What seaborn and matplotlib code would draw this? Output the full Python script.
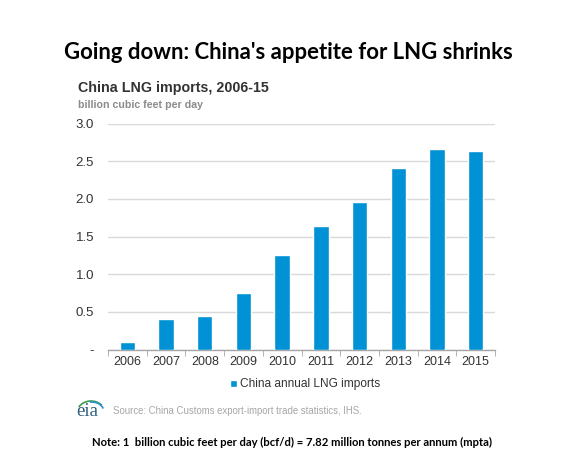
import matplotlib
matplotlib.use("Agg")
import matplotlib.pyplot as plt
from matplotlib.patches import Arc
import seaborn as sns
import pandas as pd

years = ['2006', '2007', '2008', '2009', '2010', '2011', '2012', '2013', '2014', '2015']
imports_bcfd = [0.10, 0.40, 0.44, 0.75, 1.26, 1.64, 1.96, 2.41, 2.66, 2.64]
y_ticks = [0, 0.5, 1.0, 1.5, 2.0, 2.5, 3.0]
y_tick_labels = ['-', '0.5', '1.0', '1.5', '2.0', '2.5', '3.0']

sns.set_style('white')
plt.rcParams['font.family'] = ['Liberation Sans', 'DejaVu Sans']

df = pd.DataFrame({'year': years, 'value': imports_bcfd})

fig = plt.figure(figsize=(5.64, 4.71), dpi=100)
ax = fig.add_axes([108 / 564, 1 - 349.5 / 471, 387 / 564, 226 / 471])

sns.barplot(data=df, x='year', y='value', color='#0092d4', saturation=1,
            width=0.4, ax=ax, label='China annual LNG imports', zorder=3)

ax.set_ylim(0, 3.0)
ax.set_xlim(-0.5, len(years) - 0.5)
ax.set_yticks(y_ticks)
ax.set_yticklabels(y_tick_labels)
ax.set_xlabel('')
ax.set_ylabel('')
ax.yaxis.grid(True, color='#d9d9d9', linewidth=1, zorder=0)
for s in ['top', 'right', 'left']:
    ax.spines[s].set_visible(False)
ax.spines['bottom'].set_color('#a6a6a6')
ax.spines['bottom'].set_linewidth(1)

# tick marks between categories, labels under bars
ax.set_xticks([i - 0.5 for i in range(len(years) + 1)], minor=True)
ax.tick_params(axis='x', which='minor', length=4, color='#a6a6a6', direction='out')
ax.tick_params(axis='x', which='major', length=0, pad=5, labelsize=9, labelcolor='#333333')
ax.tick_params(axis='y', length=0, pad=10, labelsize=9.5, labelcolor='#333333')
ax.xaxis.set_tick_params(bottom=True, which='minor')

leg = ax.legend(loc='upper center', bbox_to_anchor=(0.51, -0.08), frameon=False,
                handlelength=0.55, handleheight=0.55, handletextpad=0.3, fontsize=8.6)
for t in leg.get_texts():
    t.set_color('#333333')

fig.text(288 / 564, 1 - 59 / 471, "Going down: China's appetite for LNG shrinks",
         ha='center', va='baseline', fontsize=15.9, fontweight='bold', family='Lato', color='black')
fig.text(78 / 564, 1 - 88 / 471, 'China LNG imports, 2006-15', ha='left', va='center',
         fontsize=10.3, fontweight='bold', color='#333333')
fig.text(78 / 564, 1 - 105 / 471, 'billion cubic feet per day', ha='left', va='center',
         fontsize=7.7, fontweight='bold', color='#8c8c8c')

# eia logo
fig.text(76 / 564, 1 - 411 / 471, 'eia', ha='left', va='center', fontsize=13.5,
         family='Liberation Serif', color='#2f5f7f')
fig.add_artist(Arc((91 / 564, 1 - 413 / 471), 28 / 564, 24 / 471, theta1=40, theta2=150,
                   transform=fig.transFigure, color='#3c9c4c', lw=1.2))
fig.add_artist(Arc((92 / 564, 1 - 412 / 471), 24 / 564, 20 / 471, theta1=20, theta2=100,
                   transform=fig.transFigure, color='#2b8fd0', lw=1.2))
fig.text(113 / 564, 1 - 411 / 471, 'Source: China Customs export-import trade statistics, IHS.',
         ha='left', va='center', fontsize=6.9, color='#a6a6a6')

fig.text(292.5 / 564, 1 - 446 / 471,
         'Note: 1  billion cubic feet per day (bcf/d) = 7.82 million tonnes per annum (mpta)',
         ha='center', va='baseline', fontsize=8.1, fontweight='bold', family='Lato', color='black')

fig.savefig('out.png', dpi=100, facecolor='white')
